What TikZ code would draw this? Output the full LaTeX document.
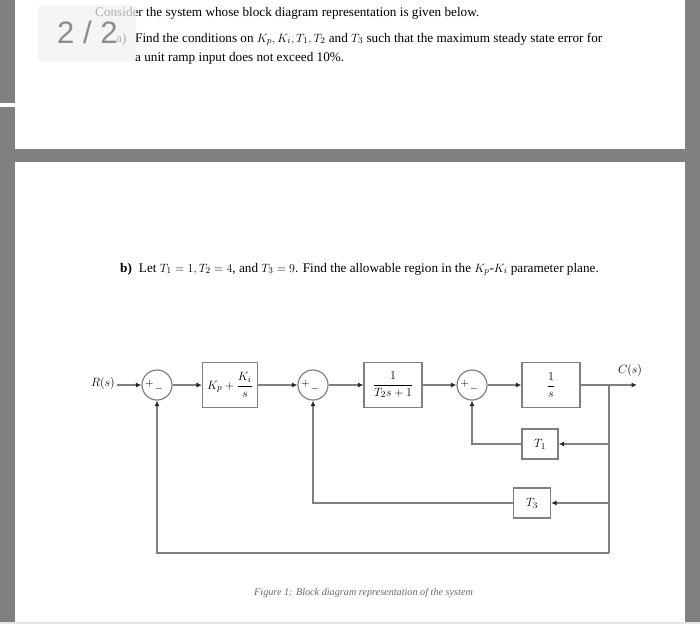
\documentclass[tikz,border=0pt]{standalone}
\usepackage{amsmath}
\usepackage{fontspec}
\setmainfont{Liberation Serif}
\newfontfamily\ovsans{Liberation Sans}
\usetikzlibrary{arrows.meta,calc}
\definecolor{bandgray}{RGB}{128,128,128}
\definecolor{linegray}{RGB}{128,128,128}
\definecolor{capgray}{RGB}{105,105,105}
\definecolor{ovgray}{RGB}{140,140,140}
\begin{document}
\begin{tikzpicture}[x=1pt,y=-1pt,
  txt/.style={anchor=base west,inner sep=0pt,font=\fontsize{13.2}{15}\selectfont},
  wire/.style={draw=linegray,line width=1.2pt},
  arr/.style={wire,-{Latex[length=5.5pt,width=5pt,color=black!85]}},
  blk/.style={draw=linegray,line width=1.2pt,minimum width=#1,minimum height=45pt,inner sep=0pt,font=\fontsize{12.5}{14}\selectfont},
  sblk/.style={draw=linegray,line width=1.2pt,minimum width=#1,minimum height=30pt,inner sep=0pt,font=\fontsize{12.5}{14}\selectfont},
  sumc/.style={circle,draw=linegray,line width=1.2pt,minimum size=30pt,inner sep=0pt},
  sgn/.style={inner sep=0pt,font=\fontsize{11}{12}\selectfont},
  lbl/.style={inner sep=0pt,font=\fontsize{13}{14}\selectfont}
]
\useasboundingbox (0,0) rectangle (700,624);
\fill[white] (0,0) rectangle (700,624);
% page frame
\fill[bandgray] (0,0) rectangle (15,624);
\fill[bandgray] (685,0) rectangle (700,624);
\fill[bandgray] (0,149) rectangle (700,162);
\fill[white] (0,103) rectangle (15,107);
\fill[gray!20] (0,622) rectangle (700,624);

% question text
\node[txt] (q0) at (95,16) {Consider the system whose block diagram representation is given below.};
\node[txt] (qa) at (116,42) {a)};
\node[txt] (qa1) at (135,42) {Find the conditions on $K_p, K_i, T_1, T_2$ and $T_3$ such that the maximum steady state error for};
\node[txt] (qa2) at (135,61) {a unit ramp input does not exceed 10\%.};
% page counter overlay
\fill[white!95!black,opacity=0.72,rounded corners=4pt] (38,5) rectangle (136,62);
\node[anchor=base west,inner sep=0pt,text=ovgray,font=\ovsans\fontsize{31}{32}\selectfont] (pg) at (57,43) {2 / 2};

\node[txt] (qb) at (120,272) {\textbf{b)}\hspace{7pt}Let $T_1 = 1, T_2 = 4$, and $T_3 = 9$. Find the allowable region in the $K_p$-$K_i$ parameter plane.};

% block diagram
\node[lbl,anchor=east] (R) at (115,383) {$R(s)$};
\node[sumc] (s1) at (157,385) {};
\node[blk=55pt] (b1) at (230,385) {$K_p+\dfrac{K_i}{s}$};
\node[sumc] (s2) at (313,385) {};
\node[blk=58pt] (b2) at (393,385) {$\dfrac{1}{T_2s+1}$};
\node[sumc] (s3) at (472,385) {};
\node[blk=58pt] (b3) at (551,385) {$\dfrac{1}{s}$};
\node[lbl] (C) at (630,370) {$C(s)$};
\node[sblk=36pt] (t1) at (540,444) {$T_1$};
\node[sblk=37pt] (t3) at (532,503) {$T_3$};
\coordinate (br) at (609,385);
\coordinate (out) at (637,385);
\coordinate (bot) at (609,553);

\foreach \s in {s1,s2,s3}{
  \node[sgn] at ($(\s)+(-7.5,-1)$) {$+$};
  \node[sgn] at ($(\s)+(2,4)$) {$-$};
}

\draw[arr] (R.east) ++(2,2) -- (s1.west);
\draw[arr] (s1.east) -- (b1.west);
\draw[arr] (b1.east) -- (s2.west);
\draw[arr] (s2.east) -- (b2.west);
\draw[arr] (b2.east) -- (s3.west);
\draw[arr] (s3.east) -- (b3.west);
\draw[arr] (b3.east) -- (out);
\draw[wire] (br) -- (bot);
\draw[arr] (bot) -| (s1.south);
\draw[arr] (br |- t1.east) -- (t1.east);
\draw[arr] (t1.west) -| (s3.south);
\draw[arr] (br |- t3.east) -- (t3.east);
\draw[arr] (t3.west) -| (s2.south);

\node[anchor=base west,inner sep=0pt,text=capgray,font=\itshape\fontsize{10.2}{12}\selectfont] (cap) at (254,595) {Figure 1: Block diagram representation of the system};
\end{tikzpicture}
\end{document}
